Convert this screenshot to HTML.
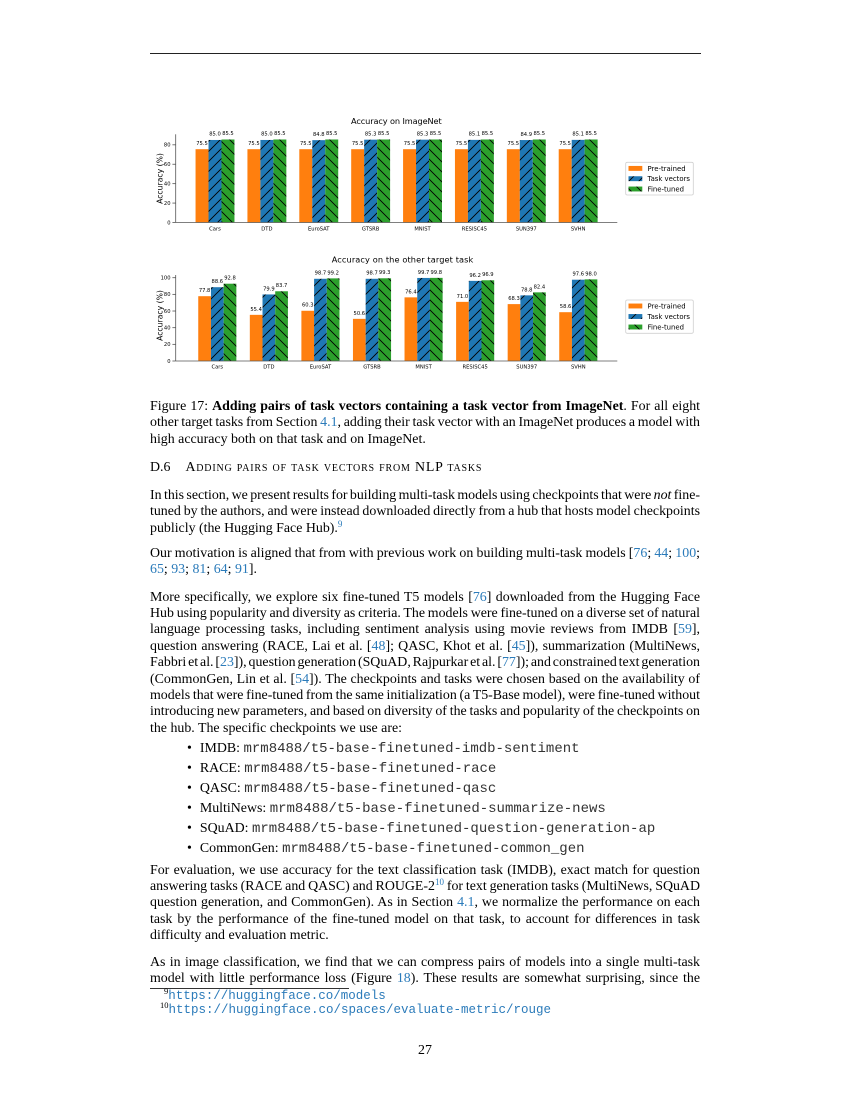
<!DOCTYPE html>
<html>
<head>
<meta charset="utf-8">
<style>
  html, body { margin:0; padding:0; background:#fff; }
  body { width:850px; height:1100px; position:relative; overflow:hidden; }
  .l { position:absolute; left:150px; width:550px; height:17px; line-height:17px;
       white-space:nowrap; text-align:justify; text-align-last:justify; word-spacing:-2.5px;
       font-family:"Liberation Serif", serif; font-size:13.9px; color:#000; }
  .n { text-align-last:left; word-spacing:normal; }
  .c { color:#2b7bba; }
  .m { font-family:"Liberation Mono", monospace; font-size:14px; color:#333; }
  .sup { font-size:9px; position:relative; top:-5px; }
  .b { position:absolute; left:150px; height:17px; line-height:17px; white-space:nowrap;
       font-family:"Liberation Serif", serif; font-size:13.9px; color:#000; }
  .fn { position:absolute; left:164px; height:15px; line-height:15px; white-space:nowrap;
        font-family:"Liberation Mono", monospace; font-size:12.5px; color:#2b7bba; }
  .fn .s { font-family:"Liberation Serif", serif; font-size:8.5px; color:#000; position:relative; top:-5px; }
</style>
</head>
<body>
<div style="position:absolute;left:149.5px;top:53px;width:551px;height:1px;background:#222;"></div>

<svg width="850" height="380" viewBox="0 0 850 380" style="position:absolute;left:0;top:0;" font-family="DejaVu Sans, sans-serif">
  <defs>
    <pattern id="pb" patternUnits="userSpaceOnUse" width="10" height="10">
      <rect width="10" height="10" fill="#1f77b4"/>
      <path d="M-1,1 L1,-1 M0,10 L10,0 M9,11 L11,9" stroke="#000" stroke-width="0.9"/>
    </pattern>
    <pattern id="pg" patternUnits="userSpaceOnUse" width="10" height="10">
      <rect width="10" height="10" fill="#2ca02c"/>
      <path d="M-1,9 L1,11 M0,0 L10,10 M9,-1 L11,1" stroke="#000" stroke-width="0.9"/>
    </pattern>
  </defs>

  <!-- ================= TOP CHART ================= -->
  <text x="351" y="124" font-size="8.2" textLength="90.7" fill="#000">Accuracy on ImageNet</text>
  <text transform="translate(162.5,178.5) rotate(-90)" text-anchor="middle" font-size="7.7" fill="#000">Accuracy (%)</text>

  <g>
    <rect x="195.55" y="149.19" width="12.97" height="73.31" fill="#ff7f0e"/>
    <rect x="208.52" y="139.96" width="12.97" height="82.54" fill="url(#pb)"/>
    <rect x="221.49" y="139.48" width="12.97" height="83.02" fill="url(#pg)"/>

    <rect x="247.43" y="149.19" width="12.97" height="73.31" fill="#ff7f0e"/>
    <rect x="260.40" y="139.96" width="12.97" height="82.54" fill="url(#pb)"/>
    <rect x="273.37" y="139.48" width="12.97" height="83.02" fill="url(#pg)"/>

    <rect x="299.31" y="149.19" width="12.97" height="73.31" fill="#ff7f0e"/>
    <rect x="312.28" y="140.16" width="12.97" height="82.34" fill="url(#pb)"/>
    <rect x="325.25" y="139.48" width="12.97" height="83.02" fill="url(#pg)"/>

    <rect x="351.19" y="149.19" width="12.97" height="73.31" fill="#ff7f0e"/>
    <rect x="364.16" y="139.67" width="12.97" height="82.83" fill="url(#pb)"/>
    <rect x="377.13" y="139.48" width="12.97" height="83.02" fill="url(#pg)"/>

    <rect x="403.07" y="149.19" width="12.97" height="73.31" fill="#ff7f0e"/>
    <rect x="416.04" y="139.67" width="12.97" height="82.83" fill="url(#pb)"/>
    <rect x="429.01" y="139.48" width="12.97" height="83.02" fill="url(#pg)"/>

    <rect x="454.95" y="149.19" width="12.97" height="73.31" fill="#ff7f0e"/>
    <rect x="467.92" y="139.87" width="12.97" height="82.63" fill="url(#pb)"/>
    <rect x="480.89" y="139.48" width="12.97" height="83.02" fill="url(#pg)"/>

    <rect x="506.83" y="149.19" width="12.97" height="73.31" fill="#ff7f0e"/>
    <rect x="519.80" y="140.06" width="12.97" height="82.44" fill="url(#pb)"/>
    <rect x="532.77" y="139.48" width="12.97" height="83.02" fill="url(#pg)"/>

    <rect x="558.71" y="149.19" width="12.97" height="73.31" fill="#ff7f0e"/>
    <rect x="571.68" y="139.87" width="12.97" height="82.63" fill="url(#pb)"/>
    <rect x="584.65" y="139.48" width="12.97" height="83.02" fill="url(#pg)"/>
  </g>

  <g font-size="5.2" text-anchor="middle" fill="#000">
    <text x="202.03" y="144.9">75.5</text><text x="215" y="135.7">85.0</text><text x="227.97" y="135.2">85.5</text>
    <text x="253.91" y="144.9">75.5</text><text x="266.88" y="135.7">85.0</text><text x="279.85" y="135.2">85.5</text>
    <text x="305.79" y="144.9">75.5</text><text x="318.76" y="135.9">84.8</text><text x="331.73" y="135.2">85.5</text>
    <text x="357.67" y="144.9">75.5</text><text x="370.64" y="135.4">85.3</text><text x="383.61" y="135.2">85.5</text>
    <text x="409.55" y="144.9">75.5</text><text x="422.52" y="135.4">85.3</text><text x="435.49" y="135.2">85.5</text>
    <text x="461.43" y="144.9">75.5</text><text x="474.40" y="135.6">85.1</text><text x="487.37" y="135.2">85.5</text>
    <text x="513.31" y="144.9">75.5</text><text x="526.28" y="135.8">84.9</text><text x="539.25" y="135.2">85.5</text>
    <text x="565.19" y="144.9">75.5</text><text x="578.16" y="135.6">85.1</text><text x="591.13" y="135.2">85.5</text>
  </g>

  <g stroke="#555" stroke-width="0.8" fill="none">
    <line x1="175.7" y1="134.3" x2="175.7" y2="222.5"/>
    <line x1="175.7" y1="222.5" x2="617.3" y2="222.5"/>
    <line x1="172.4" y1="222.5" x2="175.7" y2="222.5"/>
    <line x1="172.4" y1="203.08" x2="175.7" y2="203.08"/>
    <line x1="172.4" y1="183.66" x2="175.7" y2="183.66"/>
    <line x1="172.4" y1="164.24" x2="175.7" y2="164.24"/>
    <line x1="172.4" y1="144.82" x2="175.7" y2="144.82"/>
  </g>
  <g font-size="5.2" text-anchor="end" fill="#000">
    <text x="170.5" y="224.4">0</text>
    <text x="170.5" y="205">20</text>
    <text x="170.5" y="185.6">40</text>
    <text x="170.5" y="166.1">60</text>
    <text x="170.5" y="146.7">80</text>
  </g>
  <g font-size="5.2" text-anchor="middle" fill="#000">
    <text x="215" y="230.5">Cars</text>
    <text x="266.88" y="230.5">DTD</text>
    <text x="318.76" y="230.5">EuroSAT</text>
    <text x="370.64" y="230.5">GTSRB</text>
    <text x="422.52" y="230.5">MNIST</text>
    <text x="474.40" y="230.5">RESISC45</text>
    <text x="526.28" y="230.5">SUN397</text>
    <text x="578.16" y="230.5">SVHN</text>
  </g>

  <rect x="625.7" y="162.3" width="67.6" height="32.7" rx="1.5" fill="#fff" stroke="#d0d0d0" stroke-width="0.8"/>
  <rect x="628.5" y="165.95" width="13.8" height="4.9" fill="#ff7f0e"/>
  <rect x="628.5" y="176.25" width="13.8" height="4.9" fill="url(#pb)"/>
  <rect x="628.5" y="186.55" width="13.8" height="4.9" fill="url(#pg)"/>
  <g font-size="6.9" fill="#000">
    <text x="647.5" y="170.9">Pre-trained</text>
    <text x="647.5" y="181.2">Task vectors</text>
    <text x="647.5" y="191.5">Fine-tuned</text>
  </g>

  <!-- ================= BOTTOM CHART ================= -->
  <text x="331.7" y="262.3" font-size="8.2" textLength="141.6" fill="#000">Accuracy on the other target task</text>
  <text transform="translate(162.5,315.5) rotate(-90)" text-anchor="middle" font-size="7.7" fill="#000">Accuracy (%)</text>

  <g>
    <rect x="198.25" y="296.19" width="12.7" height="64.81" fill="#ff7f0e"/>
    <rect x="210.95" y="287.20" width="12.7" height="73.80" fill="url(#pb)"/>
    <rect x="223.65" y="283.70" width="12.7" height="77.30" fill="url(#pg)"/>

    <rect x="249.82" y="314.85" width="12.7" height="46.15" fill="#ff7f0e"/>
    <rect x="262.52" y="294.44" width="12.7" height="66.56" fill="url(#pb)"/>
    <rect x="275.22" y="291.28" width="12.7" height="69.72" fill="url(#pg)"/>

    <rect x="301.39" y="310.77" width="12.7" height="50.23" fill="#ff7f0e"/>
    <rect x="314.09" y="278.78" width="12.7" height="82.22" fill="url(#pb)"/>
    <rect x="326.79" y="278.37" width="12.7" height="82.63" fill="url(#pg)"/>

    <rect x="352.96" y="318.85" width="12.7" height="42.15" fill="#ff7f0e"/>
    <rect x="365.66" y="278.78" width="12.7" height="82.22" fill="url(#pb)"/>
    <rect x="378.36" y="278.28" width="12.7" height="82.72" fill="url(#pg)"/>

    <rect x="404.53" y="297.36" width="12.7" height="63.64" fill="#ff7f0e"/>
    <rect x="417.23" y="277.95" width="12.7" height="83.05" fill="url(#pb)"/>
    <rect x="429.93" y="277.87" width="12.7" height="83.13" fill="url(#pg)"/>

    <rect x="456.10" y="301.86" width="12.7" height="59.14" fill="#ff7f0e"/>
    <rect x="468.80" y="280.87" width="12.7" height="80.13" fill="url(#pb)"/>
    <rect x="481.50" y="280.28" width="12.7" height="80.72" fill="url(#pg)"/>

    <rect x="507.67" y="304.11" width="12.7" height="56.89" fill="#ff7f0e"/>
    <rect x="520.37" y="295.36" width="12.7" height="65.64" fill="url(#pb)"/>
    <rect x="533.07" y="292.36" width="12.7" height="68.64" fill="url(#pg)"/>

    <rect x="559.24" y="312.19" width="12.7" height="48.81" fill="#ff7f0e"/>
    <rect x="571.94" y="279.70" width="12.7" height="81.30" fill="url(#pb)"/>
    <rect x="584.64" y="279.37" width="12.7" height="81.63" fill="url(#pg)"/>
  </g>

  <g font-size="5.2" text-anchor="middle" fill="#000">
    <text x="204.6" y="292.1">77.8</text><text x="217.3" y="283.1">88.6</text><text x="230.0" y="279.6">92.8</text>
    <text x="256.17" y="310.8">55.4</text><text x="268.87" y="290.3">79.9</text><text x="281.57" y="287.2">83.7</text>
    <text x="307.74" y="306.7">60.3</text><text x="320.44" y="274.7">98.7</text><text x="333.14" y="274.3">99.2</text>
    <text x="359.31" y="314.8">50.6</text><text x="372.01" y="274.7">98.7</text><text x="384.71" y="274.2">99.3</text>
    <text x="410.88" y="293.3">76.4</text><text x="423.58" y="273.9">99.7</text><text x="436.28" y="273.8">99.8</text>
    <text x="462.45" y="297.8">71.0</text><text x="475.15" y="276.8">96.2</text><text x="487.85" y="276.2">96.9</text>
    <text x="514.02" y="300.0">68.3</text><text x="526.72" y="291.3">78.8</text><text x="539.42" y="288.3">82.4</text>
    <text x="565.59" y="308.1">58.6</text><text x="578.29" y="275.6">97.6</text><text x="590.99" y="275.3">98.0</text>
  </g>

  <g stroke="#555" stroke-width="0.8" fill="none">
    <line x1="175.7" y1="275" x2="175.7" y2="361"/>
    <line x1="175.7" y1="361" x2="617.3" y2="361"/>
    <line x1="172.4" y1="361" x2="175.7" y2="361"/>
    <line x1="172.4" y1="344.34" x2="175.7" y2="344.34"/>
    <line x1="172.4" y1="327.68" x2="175.7" y2="327.68"/>
    <line x1="172.4" y1="311.02" x2="175.7" y2="311.02"/>
    <line x1="172.4" y1="294.36" x2="175.7" y2="294.36"/>
    <line x1="172.4" y1="277.7" x2="175.7" y2="277.7"/>
  </g>
  <g font-size="5.2" text-anchor="end" fill="#000">
    <text x="170.5" y="362.9">0</text>
    <text x="170.5" y="346.2">20</text>
    <text x="170.5" y="329.6">40</text>
    <text x="170.5" y="312.9">60</text>
    <text x="170.5" y="296.2">80</text>
    <text x="170.5" y="279.6">100</text>
  </g>
  <g font-size="5.2" text-anchor="middle" fill="#000">
    <text x="217.3" y="368.5">Cars</text>
    <text x="268.87" y="368.5">DTD</text>
    <text x="320.44" y="368.5">EuroSAT</text>
    <text x="372.01" y="368.5">GTSRB</text>
    <text x="423.58" y="368.5">MNIST</text>
    <text x="475.15" y="368.5">RESISC45</text>
    <text x="526.72" y="368.5">SUN397</text>
    <text x="578.29" y="368.5">SVHN</text>
  </g>

  <rect x="625.7" y="300" width="67.6" height="33.3" rx="1.5" fill="#fff" stroke="#d0d0d0" stroke-width="0.8"/>
  <rect x="628.5" y="303.55" width="13.8" height="4.9" fill="#ff7f0e"/>
  <rect x="628.5" y="314.05" width="13.8" height="4.9" fill="url(#pb)"/>
  <rect x="628.5" y="324.55" width="13.8" height="4.9" fill="url(#pg)"/>
  <g font-size="6.9" fill="#000">
    <text x="647.5" y="308.5">Pre-trained</text>
    <text x="647.5" y="319">Task vectors</text>
    <text x="647.5" y="329.5">Fine-tuned</text>
  </g>
</svg>

<!-- Caption -->
<div class="l" style="top:397.5px;">Figure 17: <b>Adding pairs of task vectors containing a task vector from ImageNet</b>. For all eight</div>
<div class="l" style="top:414px;">other target tasks from Section <span class="c">4.1</span>, adding their task vector with an ImageNet produces a model with</div>
<div class="l n" style="top:430.5px;">high accuracy both on that task and on ImageNet.</div>

<!-- Heading -->
<div class="b" style="top:458.5px;">D.6<span style="display:inline-block;width:15px;"></span><span style="font-variant:small-caps;letter-spacing:0.8px;">Adding pairs of task vectors from NLP tasks</span></div>

<!-- Para 1 -->
<div class="l" style="top:486.5px;">In this section, we present results for building multi-task models using checkpoints that were <i>not</i> fine-</div>
<div class="l" style="top:503px;">tuned by the authors, and were instead downloaded directly from a hub that hosts model checkpoints</div>
<div class="l n" style="top:519.5px;">publicly (the Hugging Face Hub).<span class="sup c">9</span></div>

<!-- Para 2 -->
<div class="l" style="top:544.5px;">Our motivation is aligned that from with previous work on building multi-task models [<span class="c">76</span>; <span class="c">44</span>; <span class="c">100</span>;</div>
<div class="l n" style="top:561px;"><span class="c">65</span>; <span class="c">93</span>; <span class="c">81</span>; <span class="c">64</span>; <span class="c">91</span>].</div>

<!-- Para 3 -->
<div class="l" style="top:588.5px;">More specifically, we explore six fine-tuned T5 models [<span class="c">76</span>] downloaded from the Hugging Face</div>
<div class="l" style="top:604.9px;">Hub using popularity and diversity as criteria. The models were fine-tuned on a diverse set of natural</div>
<div class="l" style="top:621.3px;">language processing tasks, including sentiment analysis using movie reviews from IMDB [<span class="c">59</span>],</div>
<div class="l" style="top:637.7px;">question answering (RACE, Lai et al. [<span class="c">48</span>]; QASC, Khot et al. [<span class="c">45</span>]), summarization (MultiNews,</div>
<div class="l" style="top:654.1px;">Fabbri et al. [<span class="c">23</span>]), question generation (SQuAD, Rajpurkar et al. [<span class="c">77</span>]); and constrained text generation</div>
<div class="l" style="top:670.5px;">(CommonGen, Lin et al. [<span class="c">54</span>]). The checkpoints and tasks were chosen based on the availability of</div>
<div class="l" style="top:686.9px;">models that were fine-tuned from the same initialization (a T5-Base model), were fine-tuned without</div>
<div class="l" style="top:703.3px;">introducing new parameters, and based on diversity of the tasks and popularity of the checkpoints on</div>
<div class="l n" style="top:719.7px;">the hub. The specific checkpoints we use are:</div>

<!-- Bullets -->
<div class="b" style="left:187px;top:739.5px;">•<span style="display:inline-block;width:8px;"></span>IMDB: <span class="m">mrm8488/t5-base-finetuned-imdb-sentiment</span></div>
<div class="b" style="left:187px;top:759.5px;">•<span style="display:inline-block;width:8px;"></span>RACE: <span class="m">mrm8488/t5-base-finetuned-race</span></div>
<div class="b" style="left:187px;top:779.5px;">•<span style="display:inline-block;width:8px;"></span>QASC: <span class="m">mrm8488/t5-base-finetuned-qasc</span></div>
<div class="b" style="left:187px;top:799.5px;">•<span style="display:inline-block;width:8px;"></span>MultiNews: <span class="m">mrm8488/t5-base-finetuned-summarize-news</span></div>
<div class="b" style="left:187px;top:819.5px;">•<span style="display:inline-block;width:8px;"></span>SQuAD: <span class="m">mrm8488/t5-base-finetuned-question-generation-ap</span></div>
<div class="b" style="left:187px;top:839.5px;">•<span style="display:inline-block;width:8px;"></span>CommonGen: <span class="m">mrm8488/t5-base-finetuned-common_gen</span></div>

<!-- Para 4 -->
<div class="l" style="top:861.5px;">For evaluation, we use accuracy for the text classification task (IMDB), exact match for question</div>
<div class="l" style="top:877.9px;">answering tasks (RACE and QASC) and ROUGE-2<span class="sup c">10</span> for text generation tasks (MultiNews, SQuAD</div>
<div class="l" style="top:894.3px;">question generation, and CommonGen). As in Section <span class="c">4.1</span>, we normalize the performance on each</div>
<div class="l" style="top:910.7px;">task by the performance of the fine-tuned model on that task, to account for differences in task</div>
<div class="l n" style="top:927.1px;">difficulty and evaluation metric.</div>

<!-- Para 5 -->
<div class="l" style="top:953.5px;">As in image classification, we find that we can compress pairs of models into a single multi-task</div>
<div class="l" style="top:969.9px;">model with little performance loss (Figure <span class="c">18</span>). These results are somewhat surprising, since the</div>

<!-- Footnotes -->
<div style="position:absolute;left:150px;top:987.5px;width:199px;height:1px;background:#333;"></div>
<div class="fn" style="top:988.5px;"><span class="s">9</span>https://huggingface.co/models</div>
<div class="fn" style="top:1002.5px;left:160px;"><span class="s">10</span>https://huggingface.co/spaces/evaluate-metric/rouge</div>

<!-- Page number -->
<div style="position:absolute;left:0;width:850px;top:1041.5px;height:17px;line-height:17px;text-align:center;font-family:'Liberation Serif',serif;font-size:13.9px;">27</div>
</body>
</html>
